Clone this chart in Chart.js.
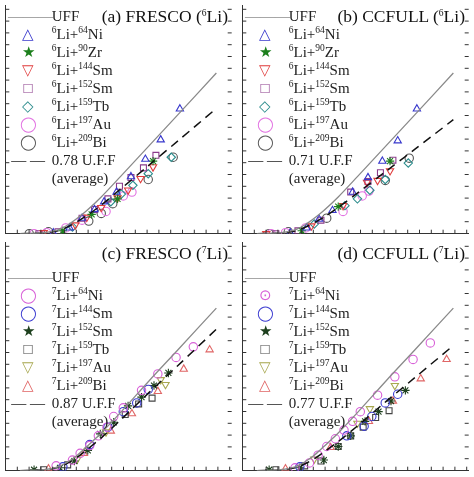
<!DOCTYPE html>
<html>
<head>
<meta charset="utf-8">
<script src="https://cdn.jsdelivr.net/npm/chart.js@4"></script>
<style>
  body { margin: 0; background: #fff; font-family: "Liberation Serif", serif; }
  #grid { position: relative; width: 474px; height: 477px; }
  .panel { position: absolute; width: 237px; height: 239px; }
  .panel canvas { position: absolute; left: 0; top: 0; }
  .title { position: absolute; right: 9px; top: 6px; font-size: 17.5px; color: #111; }
  .legend { position: absolute; left: 8px; top: 7px; font-size: 15px; color: #222; line-height: 18px; }
  .legend div { white-space: nowrap; }
  .sym { display: inline-block; width: 40px; text-align: center; font-size: 15px; }
  sup { font-size: 9.5px; vertical-align: 6px; line-height: 0; }
</style>
</head>
<body>
<div id="grid"></div>
<script>
// UFF reference curve (panel units)
const uffPts = [[15,0],[40,1],[55,4],[65,9],[75,16],[85,24],[100,38],[120,59],[150,91],[180,123],[220,166]];
const uffPts7 = [[15,0],[40,1],[55,4],[65,9],[75,16],[85,25],[100,39],[120,60],[150,93],[180,125],[220,168]];

// panel (a) FRESCO 6Li
const a_Ni = [[50,1],[67,6],[80,16],[93,25],[103,33],[116,43],[131,59],[146,77],[162,97],[182,129]];
const a_Zr = [[60,3],[90,20],[117,36],[154,75]];
const a_Sm144 = [[40,1],[73,9],[85,17],[100,27],[117,37],[128,45],[141,57],[154,69]];
const a_Sm152 = [[35,0],[55,2],[80,16],[93,25],[107,36],[119,49],[131,58],[144,68],[157,81]];
const a_Tb = [[70,7],[110,33],[121,41],[133,50],[149,62],[173,79]];
const a_Au = [[30,0],[43,1],[63,6],[80,14],[105,23],[123,39],[132,43]];
const a_Bi = [[25,0],[45,2],[87,13],[100,21],[112,31],[149,56],[175,79]];

// panel (b) CCFULL 6Li
const b_Ni = [[50,1],[67,6],[80,15],[94,24],[115,43],[131,58],[146,75],[162,96],[182,129]];
const b_Zr = [[62,3],[100,28],[154,75]];
const b_Sm144 = [[25,0],[72,8],[105,29],[130,53],[141,55],[154,65]];
const b_Sm152 = [[35,0],[58,3],[82,14],[113,43],[131,54],[144,63],[157,76]];
const b_Tb = [[75,10],[107,29],[120,36],[133,45],[149,56],[173,73]];
const b_Au = [[30,0],[45,1],[66,6],[105,23],[125,39],[132,44]];
const b_Bi = [[28,0],[48,2],[88,16],[149,55],[174,78]];

// panel (c) FRESCO 7Li
const c_Ni = [[53,5],[70,11],[78,18],[88,26],[97,36],[106,45],[113,56],[123,65],[142,83],[159,100],[178,117],[196,128]];
const c_Sm144 = [[60,4],[88,27],[107,45],[123,61],[137,70],[149,84]];
const c_Sm152 = [[30,1],[57,3],[72,10],[86,21],[99,38],[113,50],[128,67],[142,76],[155,88],[170,101]];
const c_Tb = [[40,1],[65,6],[125,58],[139,69],[153,75]];
const c_Au = [[75,12],[105,40],[162,94],[167,89]];
const c_Bi = [[45,2],[82,18],[110,41],[132,59],[159,82],[186,105],[213,125]];

// panel (d) CCFULL 7Li
const d_Ni = [[55,3],[70,8],[79,16],[88,25],[97,33],[106,42],[115,51],[123,61],[141,78],[159,97],[178,115],[196,132]];
const d_Sm144 = [[60,4],[109,36],[127,46],[135,56],[149,70],[162,79]];
const d_Sm152 = [[28,1],[60,3],[85,11],[100,25],[113,36],[128,51],[142,61],[155,72],[170,83]];
const d_Tb = [[35,1],[65,5],[82,10],[100,25],[113,36],[126,45],[139,55],[153,62]];
const d_Au = [[75,12],[120,49],[133,64],[159,88]];
const d_Bi = [[45,2],[92,24],[132,51],[157,72],[186,95],[213,115]];

const c6 = { Ni: '#3838cc', Zr: '#1c7f1c', Sm144: '#e03c3c', Sm152: '#8b3c8b', Tb: '#2b8c8c', Au: '#e272e2', Bi: '#555555' };
const c7 = { Ni: '#d860d8', Sm144: '#3a3ad0', Sm152: '#1e401e', Tb: '#444444', Au: '#a8a850', Bi: '#e06666' };

function pts(arr) { return arr.map(p => ({ x: p[0], y: p[1] })); }
function scaled(arr, f) { return arr.map(p => ({ x: p[0], y: p[1] * f })); }

function scatter(data, color, style, rot) {
  return { type: 'scatter', data: pts(data), borderColor: color, backgroundColor: style === 'star' ? color : 'transparent',
    pointStyle: style, pointRotation: rot || 0, pointRadius: 4.2, borderWidth: 1.1, showLine: false };
}

const tickPlugin = {
  id: 'inTicks',
  afterDraw(chart) {
    const { ctx, chartArea: ca } = chart;
    ctx.save();
    ctx.strokeStyle = '#333';
    ctx.lineWidth = 1;
    for (let x = ca.left + 12; x < ca.right; x += 11.8) {
      ctx.beginPath(); ctx.moveTo(x, ca.bottom); ctx.lineTo(x, ca.bottom - 4); ctx.stroke();
    }
    for (let y = ca.bottom - 12; y > ca.top; y -= 11.8) {
      ctx.beginPath(); ctx.moveTo(ca.left, y); ctx.lineTo(ca.left + 4, y); ctx.stroke();
      ctx.beginPath(); ctx.moveTo(ca.right, y); ctx.lineTo(ca.right - 4, y); ctx.stroke();
    }
    ctx.restore();
  }
};

const panels = [
  { x: 0, y: 0, title: '(a) FRESCO (<sup>6</sup>Li)', uff: uffPts, f: 0.78, iso: 6,
    sets: [['64','Ni',a_Ni,c6.Ni,'triangle',0,'△'],['90','Zr',a_Zr,c6.Zr,'star',0,'★'],['144','Sm',a_Sm144,c6.Sm144,'triangle',180,'▽'],
           ['152','Sm',a_Sm152,c6.Sm152,'rect',0,'□'],['159','Tb',a_Tb,c6.Tb,'rectRot',0,'◇'],['197','Au',a_Au,c6.Au,'circle',0,'◯'],['209','Bi',a_Bi,c6.Bi,'circle',0,'◯']] },
  { x: 237, y: 0, title: '(b) CCFULL (<sup>6</sup>Li)', uff: uffPts, f: 0.71, iso: 6,
    sets: [['64','Ni',b_Ni,c6.Ni,'triangle',0,'△'],['90','Zr',b_Zr,c6.Zr,'star',0,'★'],['144','Sm',b_Sm144,c6.Sm144,'triangle',180,'▽'],
           ['152','Sm',b_Sm152,c6.Sm152,'rect',0,'□'],['159','Tb',b_Tb,c6.Tb,'rectRot',0,'◇'],['197','Au',b_Au,c6.Au,'circle',0,'◯'],['209','Bi',b_Bi,c6.Bi,'circle',0,'◯']] },
  { x: 0, y: 237, title: '(c) FRESCO (<sup>7</sup>Li)', uff: uffPts7, f: 0.87, iso: 7, pad: 18,
    sets: [['64','Ni',c_Ni,c7.Ni,'circle',0,'◯'],['144','Sm',c_Sm144,c7.Sm144,'circle',0,'◯'],['152','Sm',c_Sm152,c7.Sm152,'star',0,'★'],
           ['159','Tb',c_Tb,c7.Tb,'rect',0,'□'],['197','Au',c_Au,c7.Au,'triangle',180,'▽'],['209','Bi',c_Bi,c7.Bi,'triangle',0,'△']] },
  { x: 237, y: 237, title: '(d) CCFULL (<sup>7</sup>Li)', uff: uffPts7, f: 0.77, iso: 7, pad: 18,
    sets: [['64','Ni',d_Ni,c7.Ni,'circle',0,'⊙'],['144','Sm',d_Sm144,c7.Sm144,'circle',0,'◯'],['152','Sm',d_Sm152,c7.Sm152,'star',0,'★'],
           ['159','Tb',d_Tb,c7.Tb,'rect',0,'□'],['197','Au',d_Au,c7.Au,'triangle',180,'▽'],['209','Bi',d_Bi,c7.Bi,'triangle',0,'△']] },
];

const grid = document.getElementById('grid');
panels.forEach(p => {
  const div = document.createElement('div');
  div.className = 'panel';
  div.style.left = p.x + 'px';
  div.style.top = p.y + 'px';
  const cv = document.createElement('canvas');
  div.appendChild(cv);
  grid.appendChild(div);

  const datasets = [
    { type: 'line', data: pts(p.uff), borderColor: '#8a8a8a', borderWidth: 1.3, pointRadius: 0, tension: 0.3 },
    { type: 'line', data: scaled(p.uff, p.f), borderColor: '#111', borderWidth: 1.5, borderDash: [9, 6], pointRadius: 0, tension: 0.3 },
  ];
  p.sets.forEach(s => datasets.push(scatter(s[2], s[3], s[4], s[5])));

  new Chart(cv, {
    type: 'scatter',
    data: { datasets },
    options: {
      responsive: true, maintainAspectRatio: false, animation: false,
      layout: { padding: 0 },
      plugins: { legend: { display: false }, tooltip: { enabled: false } },
      scales: {
        x: { type: 'linear', min: 0, max: 236, ticks: { display: false }, grid: { display: false, drawTicks: false }, border: { color: '#333' } },
        y: { type: 'linear', min: 0, max: 236, ticks: { display: false }, grid: { display: false, drawTicks: false }, border: { color: '#333' } }
      }
    },
    plugins: [tickPlugin]
  });

  const t = document.createElement('div');
  t.className = 'title';
  t.innerHTML = p.title;
  div.appendChild(t);

  const lg = document.createElement('div');
  lg.className = 'legend';
  if (p.pad) lg.style.top = (7 + p.pad + 6) + 'px';
  let html = '<div><span class="sym" style="color:#8a8a8a">———</span> UFF</div>';
  p.sets.forEach(s => {
    html += `<div><span class="sym" style="color:${s[3]}">${s[6]}</span> <sup>${p.iso}</sup>Li+<sup>${s[0]}</sup>${s[1]}</div>`;
  });
  html += `<div><span class="sym" style="color:#111">— —</span> ${p.f.toFixed(2)} U.F.F</div>`;
  html += '<div><span class="sym"></span> (average)</div>';
  lg.innerHTML = html;
  div.appendChild(lg);
});
</script>
</body>
</html>
